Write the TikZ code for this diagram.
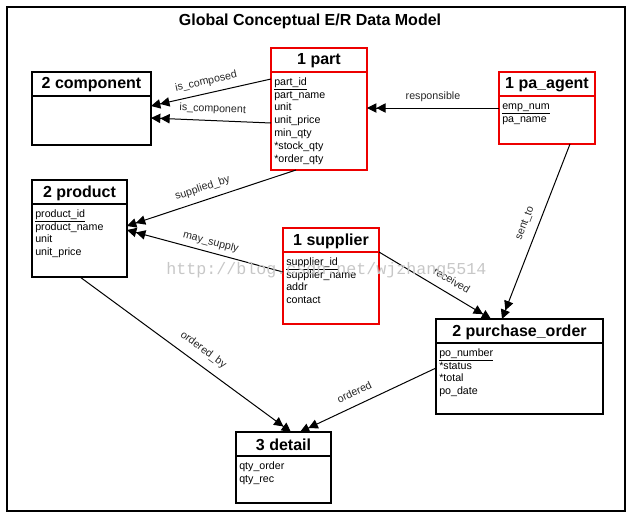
\documentclass[tikz,border=0pt]{standalone}
\usepackage{fontspec}
\setmainfont{Liberation Sans}
\newfontfamily\wmfont{Liberation Mono}
\usetikzlibrary{arrows.meta,fit,calc}
\definecolor{boxred}{RGB}{237,0,0}
\tikzset{
  ent/.style={draw=#1, inner sep=0pt, outer sep=0pt},
  hdr/.style={font=\bfseries\fontsize{12}{14}\selectfont, inner sep=0pt},
  attr/.style={font=\fontsize{8}{9.6}\selectfont, align=left, inner sep=0pt, anchor=north west},
  lbl/.style={font=\fontsize{8}{9.6}\selectfont, inner sep=1.5pt, text=black!85},
  arr/.style={line width=0.75pt, -{Triangle[length=7pt,width=7pt,sep=0pt]Triangle[length=7pt,width=7pt]}},
}
% #1 name #2 left #3 top #4 right #5 bottom #6 header line #7 title #8 attributes #9 colour/width
\newcommand\entitybox[9]{%
  \node[ent=#9, fit={(#2,#3) (#4,#5)}] (#1) {};
  \draw[#9] (#2,#6) -- (#4,#6);
  \node[hdr] (#1-t) at ({(#2+#4)/2},{(#3+#6)/2+1}) {#7};
  \node[attr] (#1-a) at (#2+3,#6+4) {#8};
}
\begin{document}
\begin{tikzpicture}[x=0.75pt,y=-0.75pt]
\useasboundingbox (0,0) rectangle (634,521);
\node[draw, line width=1pt, inner sep=0pt, outer sep=0pt, fit={(7,7) (625,511)}] (frame) {};
\node[hdr] (title) at (310,21) {Global Conceptual E/R Data Model};

\entitybox{part}{271}{48}{367}{170}{72}{1 part}{\strut\underline{part\_id}\\part\_name\\unit\\unit\_price\\min\_qty\\*stock\_qty\\*order\_qty}{boxred,line width=1.6pt}
\entitybox{component}{32}{72}{151}{145}{96}{2 component}{}{black,line width=1pt}
\entitybox{agent}{499}{72}{595}{144}{96}{1 pa\_agent}{\strut\underline{emp\_num}\\pa\_name}{boxred,line width=1.6pt}
\entitybox{product}{32}{180}{127}{277}{204}{2 product}{\strut\underline{product\_id}\\product\_name\\unit\\unit\_price}{black,line width=1pt}
\entitybox{supplier}{283}{228}{379}{324}{252}{1 supplier}{\strut\underline{supplier\_id}\\supplier\_name\\addr\\contact}{boxred,line width=1.6pt}
\entitybox{po}{436}{319}{603}{414}{343}{2 purchase\_order}{\strut\underline{po\_number}\\*status\\*total\\po\_date}{black,line width=1pt}
\entitybox{detail}{236}{432}{331}{503}{456}{3 detail}{\strut qty\_order\\qty\_rec}{black,line width=1pt}

\draw[arr] ($(part.north west)+(0,31)$) -- node[lbl, sloped, above=3pt, pos=0.52] {is\_composed} ($(component.north east)+(0,34)$);
\draw[arr] ($(part.north west)+(0,75)$) -- node[lbl, sloped, above=3pt, pos=0.49] {is\_component} ($(component.north east)+(0,46)$);
\draw[arr] ($(agent.north west)+(0,36)$) -- node[lbl, above=3pt, pos=0.5] {responsible} ($(part.north east)+(0,60)$);
\draw[arr] ($(part.south west)+(25,0)$) -- node[lbl, sloped, above=3.5pt, pos=0.53] {supplied\_by} ($(product.north east)+(0,46)$);
\draw[arr] ($(supplier.north west)+(0,44)$) -- node[lbl, sloped, above=2pt, pos=0.48] {may\_supply} ($(product.north east)+(0,50)$);
\draw[arr] ($(supplier.north east)+(0,24)$) -- node[lbl, sloped, above=5pt, pos=0.59] {received} ($(po.north west)+(55,0)$);
\draw[arr] ($(agent.south west)+(71,0)$) -- node[lbl, sloped, above=4.5pt, pos=0.48] {sent\_to} ($(po.north west)+(66,0)$);
\draw[arr] ($(product.south west)+(48,0)$) -- node[lbl, sloped, above=5pt, pos=0.545] {ordered\_by} ($(detail.north west)+(55,0)$);
\draw[arr] ($(po.north west)+(0,49)$) -- node[lbl, sloped, above=5pt, pos=0.56] {ordered} ($(detail.north west)+(64,0)$);

\node[font=\wmfont\fontsize{12.5}{14}\selectfont, text=black!22, anchor=west, inner sep=0pt] (wm) at (166,270) {http://blog.csdn.net/wjzhang5514};
\end{tikzpicture}
\end{document}
